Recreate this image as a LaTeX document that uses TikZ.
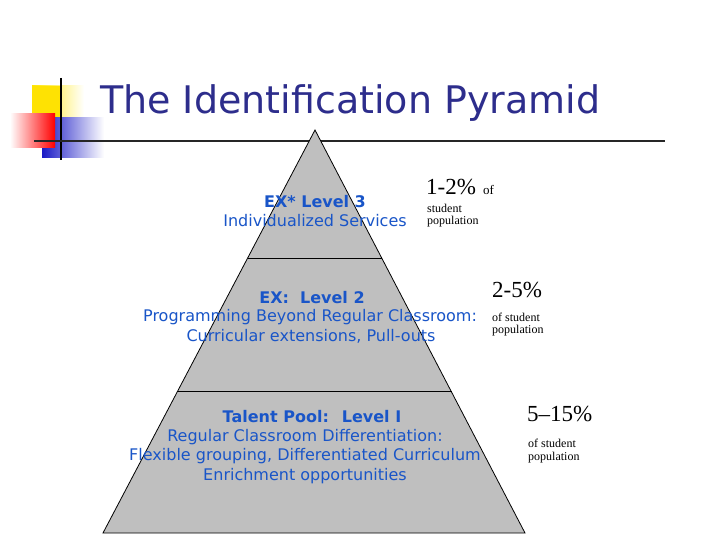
\documentclass[tikz,border=0pt]{standalone}
\usepackage{fontspec}
\setmainfont{DejaVu Sans}
\newfontfamily\serf{Liberation Serif}
\definecolor{bodyblue}{RGB}{25,85,200}
\definecolor{titleblue}{RGB}{45,45,140}
\begin{document}
\begin{tikzpicture}[x=1pt,y=-1pt,
  body/.style={font=\fontsize{16}{18}\selectfont,text=bodyblue,inner sep=0pt,anchor=center},
  bodyb/.style={body,font=\bfseries\fontsize{16}{18}\selectfont},
  sml/.style={font=\serf\fontsize{12}{13}\selectfont,inner sep=0pt,anchor=west},
  big/.style={font=\serf\fontsize{23}{25}\selectfont,inner sep=0pt,anchor=west}]
\useasboundingbox (0,0) rectangle (720,540);
\fill[white] (0,0) rectangle (720,540);
% logo
\shade[left color=yellow!80!orange, right color=white] (32,86) rectangle (84,118);
\fill[yellow!85!orange] (32,86) rectangle (60,118);
\shade[left color=blue!75!black!90, right color=white] (42,118) rectangle (104,158);
\shade[left color=white, right color=red] (10,114) rectangle (55,148);
\draw[line width=2.5pt] (61,78) -- (61,160);
\draw[line width=2.5pt,black!85] (34,141) -- (665,141);
\node[font=\fontsize{38}{42}\selectfont,text=titleblue,anchor=west,inner sep=0pt] (title) at (100,103) {The Identification Pyramid};
% pyramid
\coordinate (apex) at (315,130);
\coordinate (bl) at (103,533);
\coordinate (br) at (525,533);
\draw[fill=black!25,line width=0.8pt] (apex) -- (br) -- (bl) -- cycle;
\coordinate (l1) at (248,258); \coordinate (r1) at (382,258);
\coordinate (l2) at (178,391); \coordinate (r2) at (452,391);
\draw[line width=0.8pt] (l1) -- (r1);
\draw[line width=0.8pt] (l2) -- (r2);
% texts
\node[bodyb] (t3a) at (315,202) {EX* Level 3};
\node[body] (t3b) at (315,221) {Individualized Services};
\node[bodyb] (t2a) at (312,298) {EX:~ Level 2};
\node[body] (t2b) at (310,317) {Programming Beyond Regular Classroom:};
\node[body] (t2c) at (311,336) {Curricular extensions, Pull-outs};
\node[bodyb] (t1a) at (312,417) {Talent Pool:~ Level I};
\node[body] (t1b) at (305,437) {Regular Classroom Differentiation:};
\node[body] (t1c) at (305,456) {Flexible grouping, Differentiated Curriculum};
\node[body] (t1d) at (305,476) {Enrichment opportunities};
% right labels
\node[big] (p3) at (426,187) {1-2\%\,{\fontsize{13}{14}\selectfont\ of}};
\node[sml] (p3b) at (427,208) {student};
\node[sml] (p3c) at (427,222) {population};
\node[big] (p2) at (492,290) {2-5\%};
\node[sml] (p2b) at (492,317) {of student};
\node[sml] (p2c) at (492,331) {population};
\node[big] (p1) at (527,414) {5–15\%};
\node[sml] (p1b) at (528,443) {of student};
\node[sml] (p1c) at (528,458) {population};
\end{tikzpicture}
\end{document}
